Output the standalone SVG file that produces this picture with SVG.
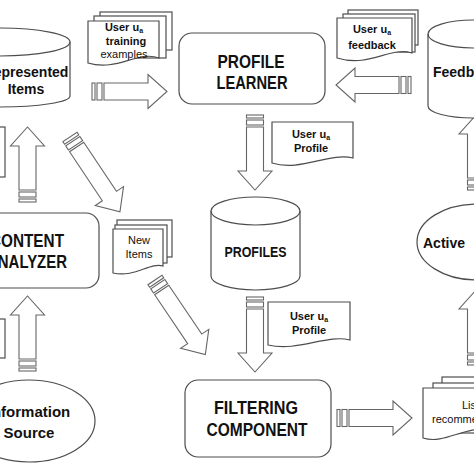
<svg xmlns="http://www.w3.org/2000/svg" width="474" height="474" viewBox="0 0 474 474">
<style>
.o{fill:#fff;stroke:#4d4d4d;stroke-width:1.2}
.l{fill:none;stroke:#4d4d4d;stroke-width:1.2}
.a{fill:#fff;stroke:#666;stroke-width:1.1}
.t{font-family:"Liberation Sans",Arial,sans-serif;fill:#111}
.b{font-weight:bold}
.m{text-anchor:middle}
.big{font-size:18px;font-weight:bold;text-anchor:middle}
.s{font-size:11px}
</style>
<defs>
<g id="a75" class="a"><rect x="0" y="-8.5" width="3" height="17"/><rect x="5" y="-8.5" width="5" height="17"/><path d="M12,-8.5H56V-17L75,0L56,17V8.5H12Z"/></g>
<g id="a90" class="a"><rect x="0" y="-8.5" width="3" height="17"/><rect x="5" y="-8.5" width="5" height="17"/><path d="M12,-8.5H71V-17L90,0L71,17V8.5H12Z"/></g>
</defs>
<rect width="474" height="474" fill="#fff"/>
<g id="connectors">
<use href="#a75" transform="translate(27.5,202) rotate(-90)"/>
<use href="#a75" transform="translate(27.5,371) rotate(-90)"/>
<use href="#a75" transform="translate(92,91.5)"/>
<use href="#a75" transform="translate(411,85) rotate(180)"/>
<use href="#a75" transform="translate(255,115) rotate(90)"/>
<use href="#a75" transform="translate(255,297) rotate(90)"/>
<use href="#a75" transform="translate(337,418)"/>
<use href="#a75" transform="translate(476,190) rotate(-90)"/>
<use href="#a75" transform="translate(476,365) rotate(-90)"/>
<use href="#a90" transform="translate(70,137) rotate(56.3)"/>
<use href="#a90" transform="translate(155,280) rotate(56)"/>
</g>
<g id="side-shapes">
<rect class="o" x="-20" y="127" width="25" height="50"/>
<rect class="o" x="-20" y="319" width="25" height="39"/>
</g>
<g id="represented-items">
<path class="o" d="M-70,42A70,14 0 0 1 70,42V96A70,11 0 0 1 -70,96Z"/>
<path class="l" d="M-70,42A70,14 0 0 0 70,42"/>
<text class="t b m" x="26" y="77" font-size="14">Represented</text>
<text class="t b m" x="26" y="94" font-size="14">Items</text>
</g>
<g id="training-examples">
<rect class="o" x="100" y="12" width="72" height="38"/>
<rect class="o" x="94" y="16" width="72" height="42"/>
<path class="o" d="M88,21H159V58C138,50 117,72 88,63Z"/>
<text class="t b m s" x="124" y="31">User u<tspan font-size="7" dy="2">a</tspan></text>
<text class="t b m s" x="126" y="45">training</text>
<text class="t m s" x="124" y="58">examples</text>
</g>
<g id="profile-learner">
<rect class="o" x="179" y="33" width="146" height="71" rx="13"/>
<text class="t big" x="251" y="68" textLength="67" lengthAdjust="spacingAndGlyphs">PROFILE</text>
<text class="t big" x="252" y="89" textLength="71" lengthAdjust="spacingAndGlyphs">LEARNER</text>
</g>
<g id="feedback-doc">
<rect class="o" x="348" y="10" width="70" height="35"/>
<rect class="o" x="343" y="14" width="72" height="38"/>
<path class="o" d="M337,18H412V53C390,46 370,68 337,58Z"/>
<text class="t b m s" x="372" y="33">User u<tspan font-size="7" dy="2">a</tspan></text>
<text class="t b m s" x="372" y="49">feedback</text>
</g>
<g id="feedback">
<path class="o" d="M428,34A45,14 0 0 1 518,34V106A45,12 0 0 1 428,106Z"/>
<path class="l" d="M428,34A45,14 0 0 0 518,34"/>
<text class="t b" x="433" y="77" font-size="14">Feedback</text>
</g>
<g id="profile-doc-1">
<path class="o" d="M272,122H353V158C330,152 300,172 272,163Z"/>
<text class="t b m s" x="311" y="138">User u<tspan font-size="7" dy="2">a</tspan></text>
<text class="t b m s" x="311" y="152">Profile</text>
</g>
<g id="profiles">
<path class="o" d="M211,211A44.5,14 0 0 1 300,211V276A44.5,14 0 0 1 211,276Z"/>
<path class="l" d="M211,211A44.5,14 0 0 0 300,211"/>
<text class="t b m" x="255.5" y="257" font-size="15" textLength="62" lengthAdjust="spacingAndGlyphs">PROFILES</text>
</g>
<g id="content-analyzer">
<rect class="o" x="-20" y="213" width="119" height="75" rx="13"/>
<text class="t big" x="27" y="247" textLength="74" lengthAdjust="spacingAndGlyphs">CONTENT</text>
<text class="t big" x="27" y="268" textLength="80" lengthAdjust="spacingAndGlyphs">ANALYZER</text>
</g>
<g id="new-items">
<rect class="o" x="117" y="220" width="55" height="37"/>
<rect class="o" x="115" y="225" width="52" height="38"/>
<path class="o" d="M113,229H163V266C150,262 135,278 113,273Z"/>
<text class="t m s" x="139" y="244">New</text>
<text class="t m s" x="139" y="258">Items</text>
</g>
<g id="profile-doc-2">
<path class="o" d="M268,302H350V340C327,334 298,352 268,345Z"/>
<text class="t b m s" x="309" y="320">User u<tspan font-size="7" dy="2">a</tspan></text>
<text class="t b m s" x="309" y="334">Profile</text>
</g>
<g id="active-user">
<ellipse class="o" cx="477" cy="242" rx="60" ry="38"/>
<text class="t b" x="423" y="248" font-size="14">Active</text>
</g>
<g id="information-source">
<ellipse class="o" cx="29" cy="421" rx="66" ry="41"/>
<text class="t b m" x="29" y="417" font-size="15">Information</text>
<text class="t b m" x="29" y="438" font-size="15">Source</text>
</g>
<g id="filtering-component">
<rect class="o" x="185" y="380" width="146" height="77" rx="13"/>
<text class="t big" x="256" y="414" textLength="84" lengthAdjust="spacingAndGlyphs">FILTERING</text>
<text class="t big" x="257" y="436" textLength="101" lengthAdjust="spacingAndGlyphs">COMPONENT</text>
</g>
<g id="list-recommendations">
<rect class="o" x="442" y="377" width="60" height="50"/>
<rect class="o" x="433" y="383" width="60" height="50"/>
<path class="o" d="M423,388H490V430C465,425 445,445 423,438Z"/>
<text class="t s" x="462" y="409">List</text>
<text class="t s" x="432" y="423">recommendations</text>
</g>
</svg>
